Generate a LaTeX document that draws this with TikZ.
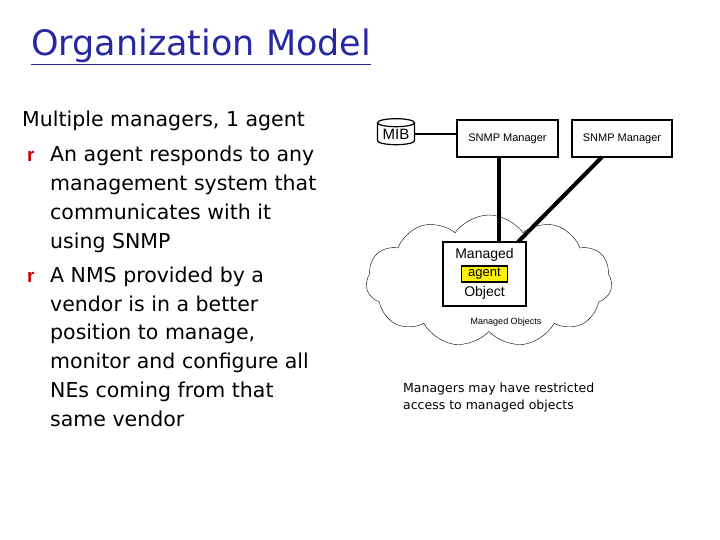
\documentclass[tikz,border=0pt]{standalone}
\usepackage{fontspec}
\setmainfont{DejaVu Sans}
\newfontfamily\ls{Liberation Sans}
\usetikzlibrary{shapes.symbols,shapes.geometric}
\definecolor{ttl}{RGB}{40,40,160}
\definecolor{bul}{RGB}{200,0,0}
\begin{document}
\begin{tikzpicture}[x=1pt,y=-1pt,
  txt/.style={anchor=base west,inner sep=0,font=\fontsize{20.5}{20}\selectfont},
  bx/.style={draw,line width=1.3pt,inner sep=0},
  ot/.style={inner sep=0,font=\ls\fontsize{14}{14}\selectfont},
  thick/.style={line width=4pt}]
\useasboundingbox (0,0) rectangle (720,540);
\node[anchor=west,inner sep=0,text=ttl,font=\fontsize{35}{35}\selectfont] (title) at (31,47) {\underline{Organization Model}};
\node[txt] (h) at (22,127) {Multiple managers, 1 agent};
\foreach \y/\t [count=\i] in {162/{An agent responds to any},191/{management system that},219/{communicates with it},248/{using SNMP},282/{A NMS provided by a},311/{vendor is in a better},339/{position to manage,},368/{monitor and configure all},397/{NEs coming from that},426/{same vendor}}
  \node[txt] (l\i) at (50,\y) {\t};
\node[txt,text=bul,font=\ls\bfseries\fontsize{19}{19}\selectfont] (b1) at (27,162) {r};
\node[txt,text=bul,font=\ls\bfseries\fontsize{19}{19}\selectfont] (b2) at (27,282) {r};
\node[cloud,draw,cloud puffs=11,cloud puff arc=110,aspect=1.9,minimum width=246,minimum height=132,inner sep=0] (cl) at (489,281) {};
\node[cylinder,shape border rotate=90,draw,line width=1.2pt,minimum width=37,minimum height=26,aspect=0.3,inner sep=0,font=\ls\fontsize{15}{15}\selectfont] (mib) at (396,134) {MIB};
\node[bx,minimum width=101,minimum height=37,font=\ls\fontsize{11}{11}\selectfont] (m1) at (507.5,138.5) {SNMP Manager};
\node[bx,minimum width=100,minimum height=37,font=\ls\fontsize{11}{11}\selectfont] (m2) at (622,138.5) {SNMP Manager};
\node[bx,minimum width=83,minimum height=64] (obj) at (484.5,274) {};
\node[ot] (t1) at (484.5,255) {Managed};
\node[draw,fill=yellow,line width=1.2pt,inner sep=1.5pt,minimum width=46,minimum height=16,font=\ls\fontsize{13}{13}\selectfont] (ag) at (484.5,274) {agent};
\node[ot] (t2) at (484.5,293) {Object};
\node[inner sep=0,font=\ls\fontsize{9}{9}\selectfont] (mo) at (506,322) {Managed Objects};
\node[anchor=north west,inner sep=0,align=left,font=\fontsize{12.5}{17}\selectfont] (note) at (403,383) {Managers may have restricted\\access to managed objects};
\draw[line width=1.3pt] (mib.east) -- (mib.east -| m1.west);
\draw[thick] (m1.south -| 499,0) -- (499,242);
\draw[thick] (602,157) -- (518,242);
\end{tikzpicture}
\end{document}
